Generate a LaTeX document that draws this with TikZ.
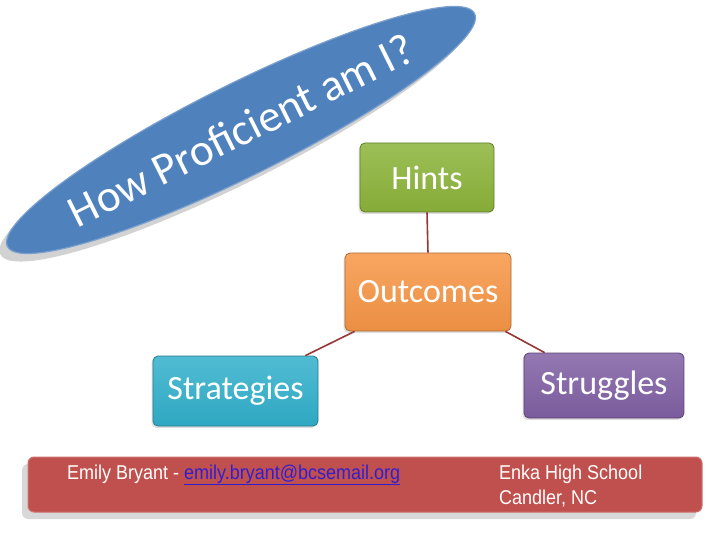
\documentclass[tikz,border=0pt]{standalone}
\usepackage{fontspec}
\setmainfont{Carlito}
\newfontfamily\footfont{Liberation Sans}[FakeStretch=0.9]
\usetikzlibrary{shapes.geometric,shadows}
\definecolor{ellblue}{RGB}{79,129,189}
\definecolor{hintgreen}{RGB}{140,180,58}
\definecolor{outorange}{RGB}{247,150,70}
\definecolor{strcyan}{RGB}{50,176,204}
\definecolor{strpurple}{RGB}{128,96,164}
\definecolor{barred}{RGB}{192,80,77}
\definecolor{linkred}{RGB}{150,55,55}
\definecolor{mailblue}{RGB}{50,30,210}
\tikzset{
  boxnode/.style={rectangle, rounded corners=5pt, draw=#1!70!black, line width=0.8pt,
    top color=#1!85!white, bottom color=#1!95!black, text=white,
    font=\fontsize{34}{38}\selectfont, inner sep=0pt,
    drop shadow={shadow xshift=-1.5pt, shadow yshift=-2pt, opacity=0.25}},
  link/.style={draw=linkred, line width=1.6pt},
  foottext/.style={text=white, font=\footfont\fontsize{20}{24}\selectfont, anchor=base west, inner sep=0pt}
}
\begin{document}
\begin{tikzpicture}[x=1pt,y=-1pt]
\fill[white] (0,0) rectangle (720,540);
\useasboundingbox (0,0) rectangle (720,540);
% title ellipse
\node[ellipse, fill=ellblue, draw=ellblue!75!white, line width=1.2pt, rotate=26.5,
  minimum width=522pt, minimum height=92pt, inner sep=0pt,
  drop shadow={shadow xshift=-7pt, shadow yshift=-8pt, opacity=0.35}] (title) at (241,130) {};
\node[rotate=26.5, text=white, inner sep=0pt, font=\fontsize{45}{50}\selectfont] (titletext) at (title.center) {How Proficient am I?};
% boxes
\node[boxnode=hintgreen, minimum width=134pt, minimum height=69pt] (hints) at (427,177.5) {Hints};
\node[boxnode=outorange, minimum width=166pt, minimum height=78pt] (outcomes) at (428,292) {Outcomes};
\node[boxnode=strcyan, minimum width=165pt, minimum height=70pt] (strategies) at (235.5,391) {Strategies};
\node[boxnode=strpurple, minimum width=160pt, minimum height=65pt] (struggles) at (604,385.5) {Struggles};
% connectors
\path (outcomes.south west) ++(10,0) coordinate (owl);
\path (outcomes.south east) ++(-6,0) coordinate (oel);
\path (strategies.north east) ++(-13,0) coordinate (stt);
\path (struggles.north west) ++(21,0) coordinate (sgt);
\draw[link] (hints.south) -- (outcomes.north);
\draw[link] (owl) -- (stt);
\draw[link] (oel) -- (sgt);
% bar
\node[rectangle, rounded corners=6pt, fill=barred, draw=barred!80!white, line width=1pt,
  minimum width=674pt, minimum height=55pt, inner sep=0pt,
  drop shadow={shadow xshift=-6pt, shadow yshift=-7pt, opacity=0.3}] (bar) at (365,484.5) {};
\node[foottext] (name) at (67,479) {Emily Bryant - \textcolor{mailblue}{\underline{emily.bryant@bcsemail.org}}};
\node[foottext] (school) at (499,479) {Enka High School};
\node[foottext] (city) at (499,504) {Candler, NC};
\end{tikzpicture}
\end{document}
